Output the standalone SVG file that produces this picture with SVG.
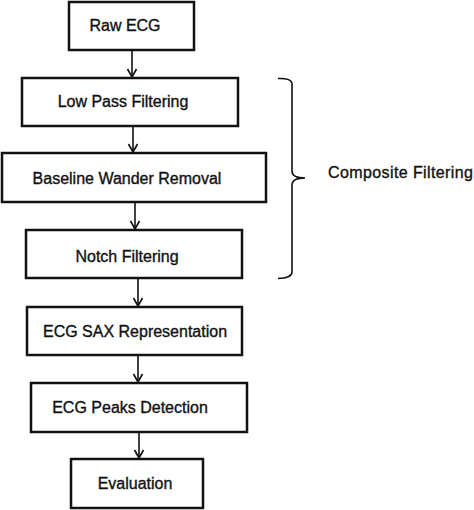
<svg xmlns="http://www.w3.org/2000/svg" width="474" height="510" viewBox="0 0 474 510">
<defs>
<marker id="arr" markerWidth="12" markerHeight="12" refX="10" refY="6" orient="auto" markerUnits="userSpaceOnUse">
<path d="M2,1.5 L10,6 L2,10.5" fill="none" stroke="#111" stroke-width="1.6"/>
</marker>
</defs>
<style>
.box{fill:#fff;stroke:#111;stroke-width:2.5}
.lbl{font-family:"Liberation Sans",Arial,sans-serif;font-size:16px;fill:#111;stroke:#111;stroke-width:0.35;text-anchor:middle}
.conn{stroke:#111;stroke-width:1.6;fill:none;marker-end:url(#arr)}
</style>
<rect width="474" height="510" fill="#fff"/>
<g id="connectors">
<line class="conn" x1="132" y1="50" x2="132" y2="77"/>
<line class="conn" x1="133" y1="126" x2="133" y2="152"/>
<line class="conn" x1="135" y1="202" x2="135" y2="229"/>
<line class="conn" x1="138" y1="278" x2="138" y2="306"/>
<line class="conn" x1="138" y1="355" x2="138" y2="382"/>
<line class="conn" x1="139" y1="432" x2="139" y2="458"/>
</g>
<g id="raw-ecg"><rect class="box" x="69" y="2" width="125" height="48"/><text class="lbl" x="125" y="31">Raw ECG</text></g>
<g id="low-pass"><rect class="box" x="22" y="78" width="216" height="48"/><text class="lbl" x="123" y="107">Low Pass Filtering</text></g>
<g id="baseline"><rect class="box" x="2" y="153" width="264" height="49"/><text class="lbl" x="127" y="184">Baseline Wander Removal</text></g>
<g id="notch"><rect class="box" x="26" y="230" width="216" height="48"/><text class="lbl" x="127" y="262">Notch Filtering</text></g>
<g id="sax"><rect class="box" x="27" y="307" width="215" height="48"/><text class="lbl" x="135" y="337">ECG SAX Representation</text></g>
<g id="peaks"><rect class="box" x="31" y="383" width="216" height="49"/><text class="lbl" x="130" y="413">ECG Peaks Detection</text></g>
<g id="evaluation"><rect class="box" x="71" y="459" width="132" height="49"/><text class="lbl" x="135" y="489">Evaluation</text></g>
<g id="composite">
<path d="M278,78.5 Q292,78 292,84 L292,171 Q292,178 305,178 Q292,178 292,185 L292,272 Q292,278 278,278.5" fill="none" stroke="#111" stroke-width="1.6"/>
<text x="328" y="178" font-family="'Liberation Sans',Arial,sans-serif" font-size="16" fill="#111" stroke="#111" stroke-width="0.35" textLength="145">Composite Filtering</text>
</g>
</svg>
